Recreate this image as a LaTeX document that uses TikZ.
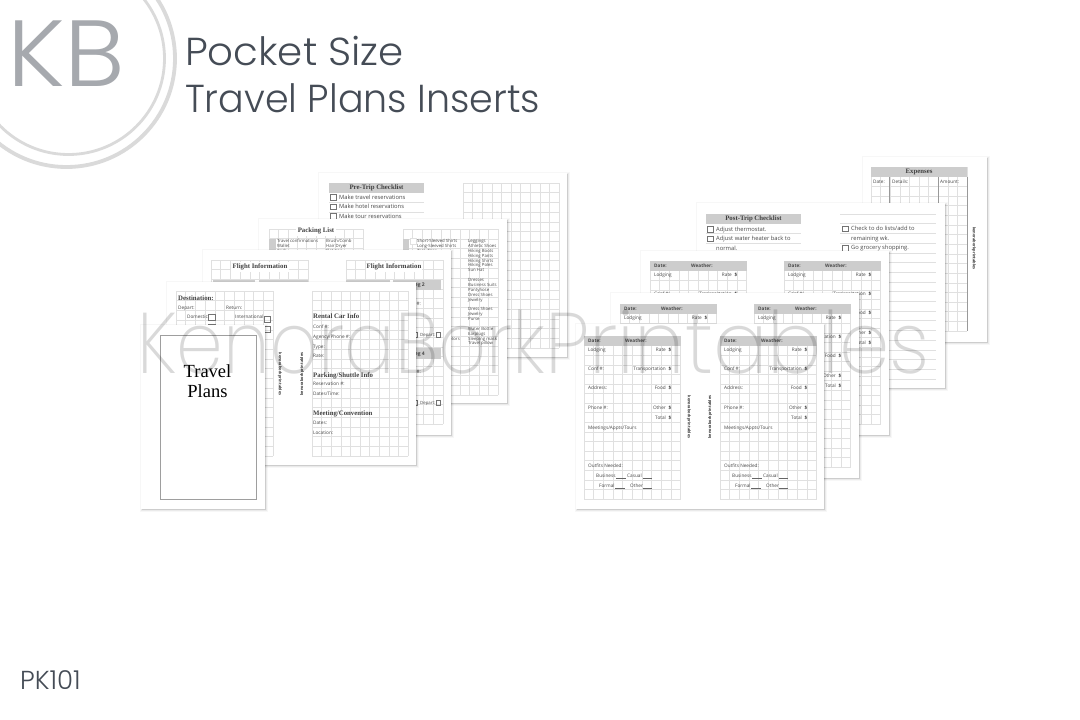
\documentclass[tikz,border=0pt]{standalone}
\usepackage{fontspec}
\setmainfont{Open Sans}
\newfontfamily\ttlfont{Poppins Light}
\newfontfamily\wmfont{Poppins ExtraLight}
\newfontfamily\srf{Liberation Serif}
\definecolor{ink}{HTML}{454C56}
\definecolor{kbgray}{HTML}{A6A9AE}
\definecolor{ringgray}{HTML}{DADADA}
\definecolor{bandgray}{HTML}{CDCDCD}
\definecolor{gridgray}{HTML}{E0E0E0}
\definecolor{txt}{HTML}{484848}
\newcounter{tn}
\tikzset{
  gridln/.style={draw=gridgray,line width=.5pt},
  bandfill/.style={fill=bandgray,draw=none},
  tickbox/.style={draw=black!55,line width=.5pt,fill=none},
  rulerln/.style={draw=black!12,line width=.5pt},
  txl/.style={inner sep=0pt,text=txt,anchor=base west},
  txr/.style={inner sep=0pt,text=txt,anchor=base east},
  txc/.style={inner sep=0pt,text=black!75,anchor=base},
}
% small sans text, left / right
\newcommand\tleft[4][4.7]{\stepcounter{tn}\node[txl,font=\fontsize{#1}{#1}\selectfont] (s\arabic{tn}) at ({#2},{#3+0.36*#1}) {#4};}
\newcommand\tright[4][4.7]{\stepcounter{tn}\node[txr,font=\fontsize{#1}{#1}\selectfont] (s\arabic{tn}) at ({#2},{#3+0.36*#1}) {#4};}
% serif heads
\newcommand\hdl[3]{\stepcounter{tn}\node[txl,text=black!75,font=\srf\bfseries\fontsize{6.8}{7}\selectfont] (s\arabic{tn}) at ({#1},{#2+1.8}) {#3};}
\newcommand\hdc[3]{\stepcounter{tn}\node[txc,font=\srf\bfseries\fontsize{6.8}{7}\selectfont] (s\arabic{tn}) at ({#1},{#2+1.8}) {#3};}
% vertical text
\newcommand\vtx[3]{\stepcounter{tn}\node[inner sep=0pt,rotate=#3,text=black!80,font=\bfseries\fontsize{3.9}{4}\selectfont] (s\arabic{tn}) at (#1,#2) {kenoraborkprintables};}
% sheet with soft shadow
\newcommand\sheet[4]{%
  \fill[black,opacity=.03] ({#1-1.5},{#2-1.5}) rectangle ({#3+2.5},{#4+2.5});
  \fill[black,opacity=.05] ({#1-.5},{#2-.5}) rectangle ({#3+1.8},{#4+1.8});
  \fill[black,opacity=.12] ({#1+1},{#2+1}) rectangle ({#3+1},{#4+1});
  \fill[white] (#1,#2) rectangle (#3,#4);}
% 10 x 17 grid
\newcommand\gridbox[4]{%
  \foreach \i in {0,...,10}{\draw[gridln] ({#1+\i*(#3-#1)/10},#2) -- ({#1+\i*(#3-#1)/10},#4);}
  \foreach \j in {0,...,17}{\draw[gridln] (#1,{#2+\j*(#4-#2)/17}) -- (#3,{#2+\j*(#4-#2)/17});}}
\newcommand\cbox[2]{\draw[tickbox] (#1,#2) rectangle ++(6,5.5);}
% the daily page
\newcommand\datepage[2]{%
  \begin{scope}[shift={(#1,#2)}]
    \gridbox{0}{0}{96.5}{163}
    \fill[bandfill] (0,0) rectangle (96.5,9.6);
    \tleft{4}{4.5}{\bfseries Date:}
    \tleft{41}{4.5}{\bfseries Weather:}
    \tleft{4}{14}{Lodging}  \tright{82}{14}{Rate}
    \tleft{4}{33}{Conf \#:} \tright{82}{33}{Transportation}
    \tleft{4}{52}{Address:} \tright{82}{52}{Food}
    \tleft{4}{72}{Phone \#:} \tright{82}{72}{Other}
    \tright{82}{82}{Total}
    \foreach \yy in {14,33,52,72,82}{\tleft{84.5}{\yy}{\bfseries\$}}
    \tleft{4}{92}{Meetings/Appts/Tours}
    \tleft{4}{130}{Outfits Needed:}
    \tleft{12}{140}{Business} \tleft{43}{140}{Casual}
    \tleft{15}{150}{Formal} \tleft{46}{150}{Other}
    \draw[black!60,line width=.4pt] (32,142.5) -- (41.5,142.5) (59,142.5) -- (68,142.5) (31,152.5) -- (41,152.5) (59,152.5) -- (68,152.5);
  \end{scope}}
\begin{document}
\begin{tikzpicture}[x=1pt,y=-1pt]
\useasboundingbox (0,0) rectangle (1080,720);
\fill[white] (0,0) rectangle (1080,720);
% ---- logo
\begin{scope}
\clip (0,0) rectangle (1080,720);
\draw[ringgray,line width=2.8pt] (68.5,58.5) circle (96);
\draw[ringgray,line width=3.8pt] (66.5,58.5) circle (108.5);
\end{scope}
\node[inner sep=0pt,anchor=base west,text=kbgray,font=\ttlfont\fontsize{94}{94}\selectfont] (kb) at (7,86) {\scalebox{1.08}[1]{KB}};
\node[inner sep=0pt,anchor=base west,text=ink,font=\ttlfont\fontsize{39}{39}\selectfont] (ttl1) at (185,65) {\scalebox{1.035}[1]{Pocket Size}};
\node[inner sep=0pt,anchor=base west,text=ink,font=\ttlfont\fontsize{39}{39}\selectfont] (ttl2) at (185,112.5) {\scalebox{.975}[1]{Travel Plans Inserts}};
\node[inner sep=0pt,anchor=base west,text=ink,font=\ttlfont\fontsize{26}{26}\selectfont] (pk) at (20,689) {PK101};

% ---- LEFT STACK
% pre-trip
\sheet{319}{173}{567}{357}
\gridbox{463}{183}{559}{348}
\fill[bandfill] (329,182.5) rectangle (424,193);
\hdc{376.5}{187.5}{Pre-Trip Checklist}
\foreach \yy in {202,212,221.5}{\draw[rulerln] (329,\yy) -- (424,\yy);}
\cbox{330.5}{194.5}\cbox{330.5}{204}\cbox{330.5}{213.5}
\tleft[5.8]{339}{197}{Make travel reservations}
\tleft[5.8]{339}{206.5}{Make hotel reservations}
\tleft[5.8]{339}{216}{Make tour reservations}

% packing list
\sheet{259}{219}{507}{403}
\gridbox{269}{229}{363}{394}
\gridbox{403}{229}{498}{395}
\fill[white] (296,226.5) rectangle (336,236);
\hdc{316}{231}{Packing List}
\fill[bandfill] (269,239) rectangle (276,252);
\fill[bandfill] (403,239) rectangle (409,252);
\draw[gridgray,line width=.6pt,fill=white] (410,238) rectangle (416,244);
\foreach \a/\b/\yy in {Travel confirmations/Brush\slash Comb/241,Wallet/Hair Dryer/246,Cash/Flat Iron/250.5}{\tleft[4.3]{277}{\yy}{\a}\tleft[4.3]{326}{\yy}{\b}}
\foreach \a/\yy in {Short-Sleeved Shirts/241,Long-Sleeved Shirts/246,Tank Tops/250.5}{\tleft[4.3]{417}{\yy}{\a}}
\foreach \a/\yy in {Leggings/241,Athletic Shoes/246,Hiking Boots/251,Hiking Pants/255.7,Hiking Shirts/260.5,Hiking Poles/265.3,Sun Hat/270,Dresses/280,Business Suits/285,Pantyhose/290,Dress Shoes/295,Jewelry/300,Dress Shoes/309,Jewelry/314,Purse/319,Water Bottle/329,Earplugs/333.7,Sleeping mask/338.5,Travel pillow/343}{\tleft[4.3]{468}{\yy}{\a}}
\tright[4.3]{460}{339}{Adaptors}

% flight information
\sheet{203}{250}{451}{435}
\gridbox{211}{260}{308}{424}
\gridbox{346}{260}{443}{424}
\fill[white] (231,262) rectangle (289,272);
\fill[white] (366,262) rectangle (422,272);
\hdc{260}{267}{Flight Information}
\hdc{394}{267}{Flight Information}
\fill[bandfill] (213,280) rectangle (255,290);
\fill[bandfill] (259,280) rectangle (308,290);
\fill[bandfill] (346,280) rectangle (390,290);
\fill[bandfill] (393,280) rectangle (441,290);
\fill[bandfill] (393,348) rectangle (441,359);
\tright[5]{425}{285}{\bfseries Leg 2}
\tright[5]{425}{354}{\bfseries Leg 4}
\tright{421}{304}{Flight \#:}
\tright{421}{372}{Flight \#:}
\foreach \yy in {335,403}{
  \draw[tickbox] (411,{\yy-2.7}) rectangle (417,{\yy+2.7});
  \tleft[4.3]{420}{\yy}{Depart:}
  \draw[tickbox] (436,{\yy-2.7}) rectangle (440.5,{\yy+2.7});
}

% destination spread
\sheet{167}{282}{416}{465}
\gridbox{176}{291}{273}{456}
\gridbox{312}{291}{408}{456}
\hdl{178}{299}{Destination:}
\tleft{178}{308}{Depart:}
\tleft{226}{308}{Return:}
\tleft{187}{317}{Domestic}
\draw[tickbox] (208.5,314) rectangle (215,320);
\tleft{235}{317}{International}
\draw[tickbox] (264.5,316) rectangle (270.5,322);
\draw[tickbox] (208.5,324) rectangle (215,330);
\draw[tickbox] (264.5,326) rectangle (270.5,332);
\hdl{313}{317}{Rental Car Info}
\tleft{313}{327}{Conf \#:}
\tleft{313}{337}{Agency/Phone \#:}
\tleft{313}{347}{Type:}
\tleft{313}{356}{Rate:}
\hdl{313}{376}{Parking/Shuttle Info}
\tleft{313}{384}{Reservation \#:}
\tleft{313}{394}{Dates/Time:}
\hdl{313}{414}{Meeting/Convention}
\tleft{313}{423}{Dates:}
\tleft{313}{433}{Location:}
\vtx{280}{374}{-90}
\vtx{302}{374}{90}

% cover
\sheet{141}{325}{265}{509}
\draw[black!38,line width=.7pt] (160.5,335) rectangle (256,499);
\node[inner sep=0pt,anchor=base,text=black,font=\srf\fontsize{18.5}{19}\selectfont] (cv1) at (207.5,377) {Travel};
\node[inner sep=0pt,anchor=base,text=black,font=\srf\fontsize{18.5}{19}\selectfont] (cv2) at (207.5,397) {Plans};

% ---- RIGHT STACK
% expenses
\sheet{863}{157}{987}{342}
\gridbox{871}{167}{967}{331}
\fill[bandfill] (871,167) rectangle (967,177);
\hdc{919}{172}{Expenses}
\draw[black!40,line width=.5pt] (889,177) -- (889,331) (938,177) -- (938,331) (967,177) -- (967,331);
\tleft{873}{182}{Date:}
\tleft{892}{182}{Details:}
\tleft{940}{182}{Amount:}
\vtx{974}{248.5}{-90}

% post-trip
\sheet{697}{203}{945}{388}
\fill[bandfill] (706,214) rectangle (801,224);
\hdc{753.5}{219}{Post-Trip Checklist}
\foreach \k in {0,...,17}{
  \draw[rulerln] (840,{214+\k*9.7}) -- (936,{214+\k*9.7});
  \draw[rulerln] (706,{233.5+\k*9.7}) -- (801,{233.5+\k*9.7});
}
\cbox{707}{226.5}\cbox{707}{236}
\tleft[5.8]{716}{229}{Adjust thermostat.}
\tleft[5.8]{716}{238.5}{Adjust water heater back to}
\tleft[5.8]{716}{248}{normal.}
\cbox{842.5}{226}\cbox{842.5}{245.5}
\tleft[5.8]{851}{228.5}{Check to do lists/add to}
\tleft[5.8]{851}{238}{remaining wk.}
\tleft[5.8]{851}{247.5}{Go grocery shopping.}

% daily sheets
\sheet{641}{251}{889}{435}
\datepage{650}{261}
\datepage{784}{261}
\sheet{611}{293}{859}{478}
\datepage{620}{304}
\datepage{754}{304}
\sheet{576}{324}{824}{509}
\datepage{584}{336}
\datepage{720}{336}
\vtx{689}{417}{-90}
\vtx{710}{417}{90}

% ---- watermark
\node[inner sep=0pt,anchor=base west,text=black,text opacity=.15,font=\wmfont\fontsize{86}{86}\selectfont] (wm) at (137,373) {\scalebox{.87}[1]{Kenora}\scalebox{.87}[1]{Bork}\scalebox{.94}[1]{Printables}};
\end{tikzpicture}
\end{document}
